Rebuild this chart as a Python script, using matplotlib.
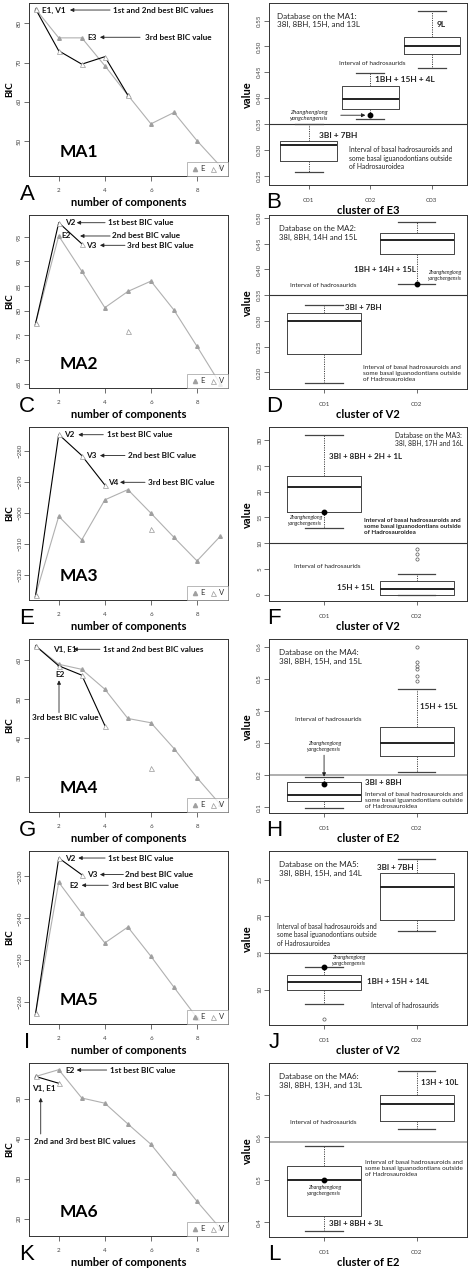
import matplotlib as mpl
mpl.use('Agg')
import matplotlib.pyplot as plt
from matplotlib.lines import Line2D
import numpy as np

plt.rcParams['font.family'] = ['Lato', 'DejaVu Sans']

nan = np.nan
comps = [1, 2, 3, 4, 5, 6, 7, 8, 9]

# BIC values (E and V models)
ma1_E = [83.6, 76.3, 76.3, 69.2, 61.7, 54.4, 57.3, 50.1, 43.7]
ma1_V = [83.6, 73.0, 69.6, 71.5, 61.7, nan, nan, nan, nan]
ma2_E = [77.5, 95.2, 88.0, 80.6, 83.9, 86.0, 80.1, 72.7, 65.1]
ma2_V = [77.5, 97.9, 93.6, nan, 75.8, nan, nan, nan, nan]
ma3_E = [-326.5, -301.2, -308.8, -295.9, -292.6, -300.2, -308.0, -315.6, -307.7]
ma3_V = [-326.5, -274.8, -281.6, -291.1, nan, -305.3, nan, nan, nan]
ma4_E = [63.6, 58.9, 57.6, 52.5, 45.0, 43.9, 37.3, 29.8, 23.0]
ma4_V = [63.6, 58.5, 56.1, 43.2, nan, 32.2, nan, nan, nan]
ma5_E = [-262.6, -231.4, -238.8, -245.9, -242.1, -249.1, -256.5, -263.8, nan]
ma5_V = [-262.6, -225.6, -229.6, nan, nan, nan, nan, nan, nan]
ma6_E = [55.6, 57.3, 50.2, 48.9, 43.7, 38.6, 31.5, 24.3, 17.6]
ma6_V = [55.6, 53.9, nan, nan, nan, nan, nan, nan, nan]

# boxplot summaries per cluster
b_labels = ['C01', 'C02', 'C03']
b_lo = [0.258, 0.359, 0.459]
b_q1 = [0.279, 0.379, 0.4855]
b_med = [0.309, 0.399, 0.500]
b_q3 = [0.318, 0.424, 0.518]
b_hi = [0.350, 0.449, 0.569]
b_fl = [[], [], []]
b_dot = [2, 0.367]
b_ref = 0.35

d_labels = ['C01', 'C02']
d_lo = [0.179, 0.371]
d_q1 = [0.235, 0.429]
d_med = [0.300, 0.456]
d_q3 = [0.3145, 0.471]
d_hi = [0.331, 0.491]
d_fl = [[], []]
d_dot = [2, 0.371]
d_ref = 0.35

f_labels = ['C01', 'C02']
f_lo = [12.9, 0.0]
f_q1 = [16.1, 0.0]
f_med = [21.0, 1.0]
f_q3 = [23.0, 2.6]
f_hi = [31.0, 4.0]
f_fl = [[], [6.9, 7.9, 8.8]]
f_dot = [1, 16.0]
f_ref = 10

h_labels = ['C01', 'C02']
h_lo = [0.099, 0.209]
h_q1 = [0.120, 0.261]
h_med = [0.1365, 0.300]
h_q3 = [0.178, 0.350]
h_hi = [0.195, 0.469]
h_fl = [[], [0.493, 0.51, 0.53, 0.541, 0.552, 0.60]]
h_dot = [1, 0.172]
h_ref = 0.2

j_labels = ['C01', 'C02']
j_lo = [8.1, 17.95]
j_q1 = [10.0, 19.45]
j_med = [11.0, 23.95]
j_q3 = [12.05, 25.9]
j_hi = [13.1, 27.86]
j_fl = [[6.05], []]
j_dot = [1, 13.1]
j_ref = 15

l_labels = ['C01', 'C02']
l_lo = [0.380, 0.619]
l_q1 = [0.414, 0.639]
l_med = [0.500, 0.679]
l_q3 = [0.533, 0.700]
l_hi = [0.579, 0.758]
l_fl = [[], []]
l_dot = [1, 0.500]
l_ref = 0.59

W, H = 474, 1272
fig = plt.figure(figsize=(W / 100, H / 100), dpi=100)

TICK = '#444444'
ZH = 'Zhanghenglong\nyangchengensis'
BASAL = ('Interval of basal hadrosauroids and\nsome basal iguanodontians outside\n'
         'of Hadrosauroidea')


def style_axes(ax):
    for s in ax.spines.values():
        s.set_linewidth(0.7)
        s.set_color('#333333')
    ax.tick_params(axis='both', labelsize=4.5, labelcolor=TICK, color='#555555',
                   length=3.5, width=0.6, pad=5)
    ax.tick_params(axis='y', labelrotation=90, pad=1.5)
    for t in ax.get_yticklabels():
        t.set_va('center')


def arrow(ax, x0, y0, x1, y1, coords='axes fraction'):
    ax.annotate('', xy=(x1, y1), xytext=(x0, y0), xycoords=coords, textcoords=coords,
                arrowprops=dict(arrowstyle='-|>', color='#222222', lw=0.6,
                                mutation_scale=5.5, shrinkA=0, shrinkB=0))


def bic_panel(row, E, V, ylim, yticks, name, letter, texts, arrows):
    y0 = 212 * row
    ax = fig.add_axes([29 / W, 1 - (y0 + 175.7) / H, 198.7 / W, 172.4 / H])
    ax.plot(comps, E, color='#b0b0b0', lw=0.8, marker='^', ms=2.6,
            mfc='#a0a0a0', mec='#a0a0a0', zorder=2)
    ax.plot(comps, V, color='black', lw=0.8, zorder=3)
    ax.plot(comps, V, ls='none', marker='^', ms=3.6, mfc='white',
            mec='#999999', mew=0.5, zorder=4)
    ax.set_xlim(0.71, 9.33)
    ax.set_ylim(*ylim)
    ax.set_xticks([2, 4, 6, 8])
    ax.set_yticks(yticks)
    style_axes(ax)
    ax.set_ylabel('BIC', fontsize=7, fontweight='bold', labelpad=2)
    ax.set_xlabel('number of components', fontsize=8, fontweight='bold')
    ax.xaxis.set_label_coords(0.5, -0.122)
    handles = [Line2D([], [], ls='none', marker='^', ms=3.0, color='#a0a0a0'),
               Line2D([], [], ls='none', marker='^', ms=3.6, mfc='none',
                      mec='#999999', mew=0.5)]
    leg = ax.legend(handles, ['E', 'V'], loc='lower right', ncol=2, fontsize=5.5,
                    fancybox=False, edgecolor='#999999', borderpad=0.45,
                    handletextpad=0.15, columnspacing=0.5, handlelength=1.2,
                    borderaxespad=0)
    leg.get_frame().set_linewidth(0.6)
    for t in leg.get_texts():
        t.set_color('#333333')
    ax.text(0.156, 0.139, name, transform=ax.transAxes, fontsize=12.5,
            fontweight='bold', va='center', ha='left')
    for s, fx, fy in texts:
        ax.text(fx, fy, s, transform=ax.transAxes, fontsize=5.9, fontweight='bold',
                va='center', ha='left', color='#111111')
    for a in arrows:
        arrow(ax, *a)
    fig.text(27 / W, 1 - (y0 + 195) / H, letter, fontsize=16, ha='center',
             va='center', family=['Liberation Sans'])
    return ax


def box_panel(row, labels, lo, q1, med, q3, hi, fl, dot, ref, refcol, xlim, ylim,
              yticks, xlabel, letter, bottom=177.3, widths=0.8, label_top=197):
    y0 = 212 * row
    ax = fig.add_axes([269.3 / W, 1 - (y0 + bottom) / H, 197.7 / W,
                       (bottom - 3.3) / H])
    stats = []
    for i in range(len(labels)):
        stats.append(dict(med=med[i], q1=q1[i], q3=q3[i], whislo=lo[i],
                          whishi=hi[i], fliers=fl[i], label=labels[i]))
    ax.bxp(stats, positions=range(1, len(labels) + 1), widths=widths,
           boxprops=dict(color='#444444', lw=0.7),
           medianprops=dict(color='#222222', lw=1.4),
           whiskerprops=dict(color='#444444', lw=0.7, ls=(0, (1.2, 1.2))),
           capprops=dict(color='#444444', lw=0.9),
           flierprops=dict(marker='o', mfc='none', mec='#555555', ms=2.3, mew=0.5))
    ax.axhline(ref, color=refcol, lw=0.8 if refcol == '#333333' else 1.1, zorder=1)
    ax.plot([dot[0]], [dot[1]], 'o', color='black', ms=3.2, zorder=5)
    ax.set_xlim(*xlim)
    ax.set_ylim(*ylim)
    ax.set_yticks(yticks)
    style_axes(ax)
    ax.tick_params(axis='x', length=3, pad=6)
    ax.set_ylabel('value', fontsize=8, fontweight='bold', labelpad=3)
    ax.set_xlabel(xlabel, fontsize=8, fontweight='bold')
    ax.xaxis.set_label_coords(0.5, -(label_top - bottom) / (bottom - 3.3))
    fig.text(274 / W, 1 - (y0 + bottom + 17) / H, letter, fontsize=16,
             ha='center', va='center', family=['Liberation Sans'])
    return ax


def note(ax, fx, fy, s, size=4.6, weight='normal', ha='left', style='normal'):
    ax.text(fx, fy, s, transform=ax.transAxes, fontsize=size, fontweight=weight,
            ha=ha, va='center', style=style, color='#222222', linespacing=1.25)


# ---- left column: BIC curves ----
bic_panel(0, ma1_E, ma1_V, (41.2, 85.1), [50, 60, 70, 80], 'MA1', 'A',
          [('E1, V1', 0.064, 0.961), ('1st and 2nd best BIC values', 0.424, 0.961),
           ('E3', 0.294, 0.803), ('3rd best BIC value', 0.584, 0.803)],
          [(0.408, 0.961, 0.206, 0.961), (0.559, 0.803, 0.357, 0.803)])

bic_panel(1, ma2_E, ma2_V, (64.3, 99.4), [65, 70, 75, 80, 85, 90, 95], 'MA2', 'C',
          [('V2', 0.181, 0.957), ('1st best BIC value', 0.399, 0.957),
           ('E2', 0.164, 0.880), ('2nd best BIC value', 0.416, 0.880),
           ('V3', 0.287, 0.826), ('3rd best BIC value', 0.492, 0.826)],
          [(0.383, 0.957, 0.240, 0.957), (0.408, 0.880, 0.257, 0.880),
           (0.483, 0.826, 0.357, 0.826)])

bic_panel(2, ma3_E, ma3_V, (-328.1, -272.5), [-320, -310, -300, -290, -280], 'MA3', 'E',
          [('V2', 0.176, 0.957), ('1st best BIC value', 0.391, 0.957),
           ('V3', 0.287, 0.836), ('2nd best BIC value', 0.500, 0.836),
           ('V4', 0.399, 0.681), ('3rd best BIC value', 0.601, 0.681)],
          [(0.374, 0.957, 0.248, 0.957), (0.483, 0.836, 0.357, 0.836),
           (0.584, 0.681, 0.458, 0.681)])

bic_panel(3, ma4_E, ma4_V, (21.1, 65.3), [30, 40, 50, 60], 'MA4', 'G',
          [('V1, E1', 0.122, 0.942), ('1st and 2nd best BIC values', 0.374, 0.942),
           ('E2', 0.134, 0.797), ('3rd best BIC value', 0.013, 0.549)],
          [(0.357, 0.942, 0.223, 0.942), (0.151, 0.575, 0.151, 0.762)])

bic_panel(4, ma5_E, ma5_V, (-265.2, -224.0), [-260, -250, -240, -230], 'MA5', 'I',
          [('V2', 0.181, 0.961), ('1st best BIC value', 0.399, 0.961),
           ('V3', 0.290, 0.865), ('2nd best BIC value', 0.483, 0.865),
           ('E2', 0.203, 0.803), ('3rd best BIC value', 0.416, 0.803)],
          [(0.383, 0.961, 0.248, 0.961), (0.475, 0.865, 0.357, 0.865),
           (0.399, 0.803, 0.265, 0.803)])

bic_panel(5, ma6_E, ma6_V, (15.7, 58.9), [20, 30, 40, 50], 'MA6', 'K',
          [('E2', 0.181, 0.961), ('1st best BIC value', 0.408, 0.961),
           ('V1, E1', 0.013, 0.855), ('2nd and 3rd best BIC values', 0.027, 0.549)],
          [(0.391, 0.961, 0.240, 0.961), (0.059, 0.590, 0.059, 0.800)])

# ---- right column: boxplots ----
ax = box_panel(0, b_labels, b_lo, b_q1, b_med, b_q3, b_hi, b_fl, b_dot, b_ref, '#333333',
               (0.36, 3.57), (0.232, 0.5835), [0.25, 0.30, 0.35, 0.40, 0.45, 0.50, 0.55],
               'cluster of E3', 'B', bottom=185, widths=0.92, label_top=205)
note(ax, 0.039, 0.927, 'Database on the MA1:', 5.8)
note(ax, 0.039, 0.881, '38I, 8BH, 15H, and 13L', 5.8)
note(ax, 0.845, 0.886, '9L', 6, 'bold')
note(ax, 0.351, 0.670, 'Interval of hadrosaurids', 4.6)
note(ax, 0.536, 0.578, '1BH + 15H + 4L', 6, 'bold')
note(ax, 0.199, 0.382, ZH, 4.2, ha='center', style='italic')
arrow(ax, 1.52, b_dot[1], 1.92, b_dot[1], 'data')
note(ax, 0.250, 0.275, '3BI + 7BH', 6, 'bold')
note(ax, 0.401, 0.147, BASAL, 4.9)

ax = box_panel(1, d_labels, d_lo, d_q1, d_med, d_q3, d_hi, d_fl, d_dot, d_ref, '#333333',
               (0.41, 2.54), (0.1674, 0.5048), [0.20, 0.25, 0.30, 0.35, 0.40, 0.45, 0.50],
               'cluster of V2', 'D')
note(ax, 0.047, 0.923, 'Database on the MA2:', 5.6)
note(ax, 0.047, 0.875, '38I, 8BH, 14H and 15L', 5.6)
note(ax, 0.427, 0.690, '1BH + 14H + 15L', 5.8, 'bold')
note(ax, 0.801, 0.653, ZH, 3.8, style='italic')
note(ax, 0.106, 0.594, 'Interval of hadrosaurids', 4.6)
note(ax, 0.384, 0.469, '3BI + 7BH', 5.8, 'bold')
note(ax, 0.474, 0.090, BASAL, 4.6)

ax = box_panel(2, f_labels, f_lo, f_q1, f_med, f_q3, f_hi, f_fl, f_dot, f_ref, '#333333',
               (0.41, 2.54), (-1.3, 32.5), [0, 5, 10, 15, 20, 25, 30],
               'cluster of V2', 'F')
note(ax, 0.637, 0.952, 'Database on the MA3:', 4.9)
note(ax, 0.637, 0.908, '38I, 8BH, 17H and 16L', 4.9)
note(ax, 0.300, 0.833, '3BI + 8BH + 2H + 1L', 5.8, 'bold')
note(ax, 0.182, 0.466, ZH, 3.8, ha='center', style='italic')
note(ax, 0.477, 0.429, BASAL, 4.5, 'bold')
note(ax, 0.126, 0.199, 'Interval of hadrosaurids', 4.6)
note(ax, 0.342, 0.077, '15H + 15L', 5.8, 'bold')

ax = box_panel(3, h_labels, h_lo, h_q1, h_med, h_q3, h_hi, h_fl, h_dot, h_ref, '#999999',
               (0.41, 2.54), (0.081, 0.623), [0.1, 0.2, 0.3, 0.4, 0.5, 0.6],
               'cluster of E2', 'H')
note(ax, 0.047, 0.923, 'Database on the MA4:', 5.8)
note(ax, 0.047, 0.875, '38I, 8BH, 15H, and 15L', 5.8)
note(ax, 0.132, 0.540, 'Interval of hadrosaurids', 4.6)
note(ax, 0.764, 0.613, '15H + 15L', 5.8, 'bold')
note(ax, 0.278, 0.383, ZH, 3.8, ha='center', style='italic')
arrow(ax, 1, 0.262, 1, 0.195, 'data')
note(ax, 0.486, 0.176, '3BI + 8BH', 5.8, 'bold')
note(ax, 0.486, 0.071, BASAL, 4.6)

ax = box_panel(4, j_labels, j_lo, j_q1, j_med, j_q3, j_hi, j_fl, j_dot, j_ref, '#333333',
               (0.41, 2.54), (5.14, 28.86), [10, 15, 20, 25],
               'cluster of V2', 'J')
note(ax, 0.047, 0.923, 'Database on the MA5:', 5.8)
note(ax, 0.047, 0.875, '38I, 8BH, 15H, and 14L', 5.8)
note(ax, 0.545, 0.908, '3BI + 7BH', 5.8, 'bold')
note(ax, 0.039, 0.521, BASAL, 4.7)
note(ax, 0.317, 0.375, ZH, 3.8, style='italic')
note(ax, 0.494, 0.249, '1BH + 15H + 14L', 5.8, 'bold')
note(ax, 0.516, 0.115, 'Interval of hadrosaurids', 4.7)

ax = box_panel(5, l_labels, l_lo, l_q1, l_med, l_q3, l_hi, l_fl, l_dot, l_ref, '#999999',
               (0.41, 2.54), (0.3646, 0.775), [0.4, 0.5, 0.6, 0.7],
               'cluster of E2', 'L')
note(ax, 0.047, 0.923, 'Database on the MA6:', 5.8)
note(ax, 0.047, 0.875, '38I, 8BH, 13H, and 13L', 5.8)
note(ax, 0.767, 0.889, '13H + 10L', 5.8, 'bold')
note(ax, 0.106, 0.659, 'Interval of hadrosaurids', 4.6)
note(ax, 0.486, 0.397, BASAL, 4.6)
note(ax, 0.278, 0.268, ZH, 3.8, ha='center', style='italic')
note(ax, 0.300, 0.077, '3BI + 8BH + 3L', 5.8, 'bold')

fig.savefig('out.png', dpi=100, facecolor='white')
